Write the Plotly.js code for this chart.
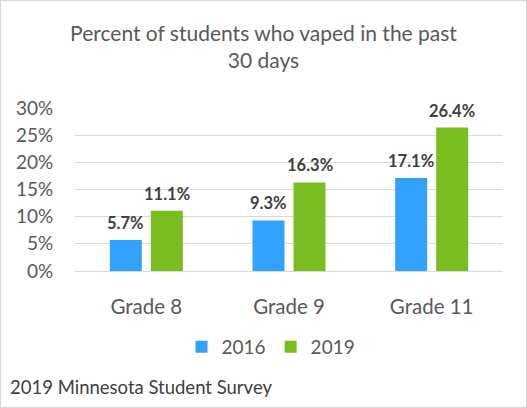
<!DOCTYPE html>
<html>
<head>
<meta charset="utf-8">
<script src="https://cdn.plot.ly/plotly-3.0.1.min.js"></script>
<style>
  body { margin: 0; background: #fff; }
  #chart { width: 525px; height: 406px; border: 1px solid #d9d9d9; }
</style>
</head>
<body>
<div id="chart"></div>
<script>
const grades = ['Grade 8', 'Grade 9', 'Grade 11'];
const years = ['2016', '2019'];
const vaped2016 = [0.057, 0.093, 0.171];
const vaped2019 = [0.111, 0.163, 0.264];
const colors = ['#33a2ff', '#7abd21'];

const series = [vaped2016, vaped2019];

const data = series.map((values, i) => ({
  type: 'bar',
  name: years[i],
  x: grades,
  y: values,
  marker: { color: colors[i] },
  hoverinfo: 'skip'
}));

// value labels above each bar, shifted to its slot in the group
const labels = [];
series.forEach((values, i) => {
  values.forEach((v, j) => {
    labels.push({
      x: grades[j],
      y: v,
      xref: 'x',
      yref: 'y',
      text: (v * 100).toFixed(1) + '%',
      showarrow: false,
      xshift: i === 0 ? -20.5 : 20.5,
      yanchor: 'bottom',
      yshift: 5,
      font: { family: 'Lato', size: 16.5, color: '#404040', weight: 'bold' }
    });
  });
});

labels.push({
  text: '2019 Minnesota Student Survey',
  xref: 'paper',
  yref: 'paper',
  x: -0.157,
  y: -0.71,
  xanchor: 'left',
  yanchor: 'middle',
  showarrow: false,
  font: { family: 'Lato', size: 18.5, color: '#404040' }
});

const layout = {
  width: 525,
  height: 406,
  margin: { l: 74, r: 23, t: 107, b: 136 },
  paper_bgcolor: '#fff',
  plot_bgcolor: '#fff',
  font: { family: 'Lato', color: '#595959' },
  title: {
    text: 'Percent of students who vaped in the past<br>30 days',
    font: { family: 'Lato', size: 21, color: '#595959' },
    x: 0.5,
    xanchor: 'center',
    y: 0.902,
    yanchor: 'top'
  },
  barmode: 'group',
  bargap: 0.425,
  bargroupgap: 0.22,
  xaxis: {
    tickfont: { size: 20.5, color: '#595959' },
    ticks: 'outside',
    ticklen: 17,
    tickcolor: 'rgba(0,0,0,0)',
    showline: true,
    linecolor: '#d9d9d9',
    fixedrange: true
  },
  yaxis: {
    range: [0, 0.3],
    dtick: 0.05,
    tickformat: '.0%',
    tickfont: { size: 19, color: '#595959' },
    ticks: 'outside',
    ticklen: 17,
    tickcolor: 'rgba(0,0,0,0)',
    gridcolor: '#d9d9d9',
    zeroline: false,
    fixedrange: true
  },
  showlegend: true,
  legend: {
    orientation: 'h',
    x: 0.458,
    xanchor: 'center',
    y: -0.465,
    yanchor: 'middle',
    font: { size: 19, color: '#595959' },
    itemwidth: 30,
    tracegroupgap: 0
  },
  annotations: labels
};

Plotly.newPlot('chart', data, layout, { displayModeBar: false, staticPlot: true });
</script>
</body>
</html>
